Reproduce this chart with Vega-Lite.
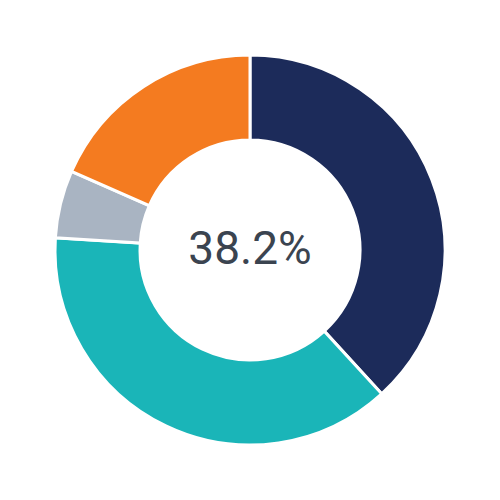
{
  "$schema": "https://vega.github.io/schema/vega-lite/v6.json",
  "width": 500,
  "height": 500,
  "autosize": {"type": "fit", "contains": "padding"},
  "padding": 0,
  "background": "white",
  "view": {"stroke": null},
  "data": {"values": [
    {"category": "A", "value": 38.2, "order": 1},
    {"category": "B", "value": 37.8, "order": 2},
    {"category": "C", "value": 5.6, "order": 3},
    {"category": "D", "value": 18.4, "order": 4}
  ]},
  "layer": [
    {
      "mark": {"type": "arc", "outerRadius": 195, "innerRadius": 110, "stroke": "white", "strokeWidth": 3},
      "encoding": {
        "theta": {"field": "value", "type": "quantitative", "stack": true},
        "order": {"field": "order", "type": "quantitative"},
        "color": {
          "field": "category", "type": "nominal", "legend": null,
          "scale": {"domain": ["A", "B", "C", "D"], "range": ["#1c2b5a", "#1ab5b8", "#a9b4c2", "#f47b20"]}
        }
      }
    },
    {
      "data": {"values": [{"label": "38.2%"}]},
      "mark": {"type": "text", "fontSize": 46, "font": "Roboto", "color": "#3b4450", "align": "center", "baseline": "middle", "dy": 0},
      "encoding": {"text": {"field": "label", "type": "nominal"}}
    }
  ]
}
